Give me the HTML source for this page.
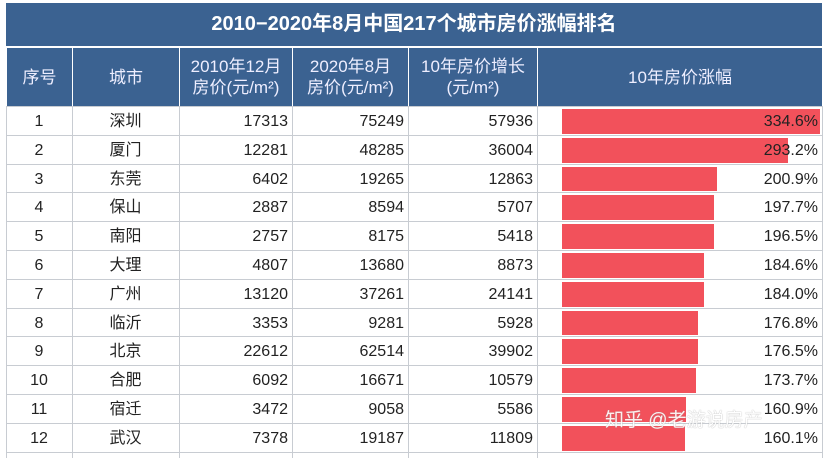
<!DOCTYPE html>
<html><head><meta charset="utf-8"><style>
body{margin:0;width:831px;height:458px;overflow:hidden;background:#fff;font-family:"Liberation Sans","Noto Sans CJK SC",sans-serif;position:relative}
.t{position:absolute;left:6px;top:3px;width:816px;height:43px;background:#3b6291;color:#fff;font-size:20px;font-weight:bold;text-align:center;line-height:43px}
.hd{position:absolute;top:48px;height:58px;background:#3b6291;color:#eef;font-size:17px;text-align:center;display:flex;align-items:center;justify-content:center;line-height:21px}
.c{position:absolute;font-size:16px;color:#222;height:29px;line-height:29px}
.bar{position:absolute;background:#f2515b}
.line{position:absolute;background:#c8ccd2}
</style></head><body>
<div class="t">2010−2020年8月中国217个城市房价涨幅排名</div>
<div id="root"></div>
<script>
const cities=["深圳","厦门","东莞","保山","南阳","大理","广州","临沂","北京","合肥","宿迁","武汉"];
const p2010=[17313,12281,6402,2887,2757,4807,13120,3353,22612,6092,3472,7378];
const p2020=[75249,48285,19265,8594,8175,13680,37261,9281,62514,16671,9058,19187];
const growth=[57936,36004,12863,5707,5418,8873,24141,5928,39902,10579,5586,11809];
const pct=[334.6,293.2,200.9,197.7,196.5,184.6,184.0,176.8,176.5,173.7,160.9,160.1];
const root=document.getElementById('root');
const cols=[6,72,179,292,408,537,822];
const heads=["序号","城市","2010年12月<br>房价(元/m²)","2020年8月<br>房价(元/m²)","10年房价增长<br>(元/m²)","10年房价涨幅"];
const hn=["header-index","header-city","header-price-2010","header-price-2020","header-growth","header-pct"];
heads.forEach((h,i)=>{const d=document.createElement('div');d.className='hd';


d.style.left=(cols[i]+1)+'px';d.style.width=(cols[i+1]-cols[i]-1)+'px';d.innerHTML=h;root.appendChild(d);});
const top0=107,rh=28.8,barX=562,scale=(820-562)/334.6;
function add(cls,name,l,t,w,txt,align){const d=document.createElement('div');d.className=cls;


d.style.left=l+'px';d.style.top=t+'px';d.style.width=w+'px';d.style.textAlign=align;d.textContent=txt;root.appendChild(d);return d;}
for(let r=0;r<13;r++){const y=top0+r*rh;
const ln=document.createElement('div');ln.className='line';


ln.style.left='6px';ln.style.width='816px';ln.style.top=(y-1)+'px';ln.style.height='1px';root.appendChild(ln);}
cols.forEach(x=>{const ln=document.createElement('div');ln.className='line';


ln.style.left=x+'px';ln.style.width='1px';ln.style.top='106px';ln.style.height='352px';root.appendChild(ln);});
cities.forEach((c,r)=>{const y=top0+r*rh;
const b=document.createElement('div');b.className='bar';


b.style.left=barX+'px';b.style.top=(y+2)+'px';b.style.height=(rh-4)+'px';b.style.width=(pct[r]*scale)+'px';root.appendChild(b);
add('c','row-index',6,y,66,String(r+1),'center');
add('c','city-name',72,y,107,c,'center');
add('c','price-2010',179,y,109,String(p2010[r]),'right');
add('c','price-2020',292,y,112,String(p2020[r]),'right');
add('c','growth',408,y,125,String(growth[r]),'right');
add('c','pct-label',537,y,281,pct[r].toFixed(1)+'%','right');
});
</script>
<div style="position:absolute;left:605px;top:405px;color:#fff;font-size:19px;opacity:.9;text-shadow:0 0 1px #888;font-family:'Liberation Sans','Noto Sans CJK SC',sans-serif">知乎 @老游说房产</div>
</body></html>
